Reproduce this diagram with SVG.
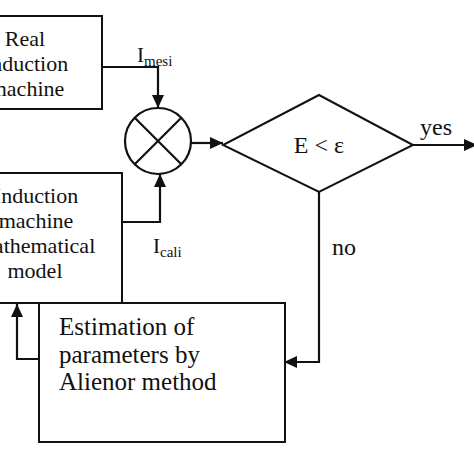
<svg xmlns="http://www.w3.org/2000/svg" width="474" height="474" viewBox="0 0 474 474">
<style>
.box{fill:#fff;stroke:#111;stroke-width:2}
.ln{fill:none;stroke:#111;stroke-width:2.2}
.t{font-family:"Liberation Serif","Times New Roman",serif;fill:#111}
</style>
<defs>
<marker id="ah" markerUnits="userSpaceOnUse" markerWidth="14" markerHeight="12" refX="13" refY="6" orient="auto">
<path d="M0,0 L13,6 L0,12 z" fill="#111"/>
</marker>
</defs>
<rect width="474" height="474" fill="#fff"/>
<g id="connectors">
<path class="ln" d="M102,67 H158 V108" marker-end="url(#ah)"/>
<path class="ln" d="M191,143 H223" marker-end="url(#ah)"/>
<path class="ln" d="M122,222 H160 V174" marker-end="url(#ah)"/>
<path class="ln" d="M413,145 H477" marker-end="url(#ah)"/>
<path class="ln" d="M319,192 V362 H284" marker-end="url(#ah)"/>
<path class="ln" d="M39,359 H17 V304" marker-end="url(#ah)"/>
<text class="t" x="137" y="62" font-size="21">I<tspan font-size="15" dy="4">mesi</tspan></text>
<text class="t" x="153" y="253" font-size="21">I<tspan font-size="15" dy="4">cali</tspan></text>
<text class="t" x="420" y="135" font-size="24">yes</text>
<text class="t" x="332" y="255" font-size="24">no</text>
</g>
<g id="real-machine">
<rect class="box" x="-50" y="16" width="152" height="93"/>
<text class="t" font-size="22" text-anchor="middle"><tspan x="25" y="46">Real</tspan><tspan x="26" y="71">Induction</tspan><tspan x="27" y="96">machine</tspan></text>
</g>
<g id="comparator">
<circle cx="158" cy="141" r="33" fill="#fff" stroke="#111" stroke-width="2.2"/>
<path class="ln" d="M134.7,117.7 L181.3,164.3 M181.3,117.7 L134.7,164.3"/>
</g>
<g id="decision">
<polygon class="box" points="319,95 413,145 319,192 223,145"/>
<text class="t" x="319" y="153" font-size="24" text-anchor="middle">E &lt; ε</text>
</g>
<g id="model">
<rect class="box" x="-50" y="173" width="172" height="130"/>
<text class="t" font-size="22" text-anchor="middle"><tspan x="36" y="203">Induction</tspan><tspan x="36" y="228">machine</tspan><tspan x="36" y="253">mathematical</tspan><tspan x="35" y="278">model</tspan></text>
</g>
<g id="estimation">
<rect class="box" x="39" y="303" width="246" height="139"/>
<text class="t" font-size="25"><tspan x="59" y="335">Estimation of</tspan><tspan x="59" y="363">parameters by</tspan><tspan x="59" y="390">Alienor method</tspan></text>
</g>
</svg>
